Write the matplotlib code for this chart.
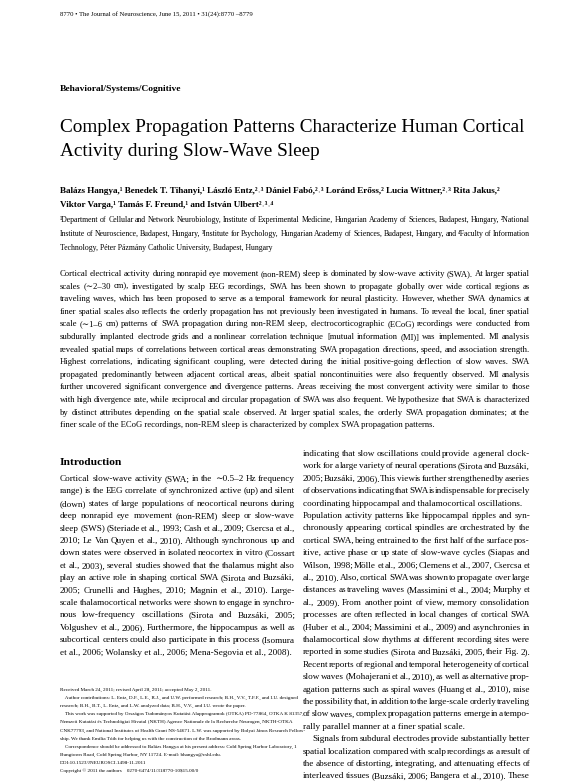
import matplotlib
matplotlib.use("Agg")
import matplotlib.pyplot as plt

W, H = 585, 783
SERIF = ["Liberation Serif", "DejaVu Serif"]

header = "8770 • The Journal of Neuroscience, June 15, 2011 • 31(24):8770 –8779"
section = "Behavioral/Systems/Cognitive"
title = ["Complex Propagation Patterns Characterize Human Cortical",
         "Activity during Slow-Wave Sleep"]
authors = ["Balázs Hangya,¹ Benedek T. Tihanyi,¹ László Entz,²˒³ Dániel Fabó,²˒³ Loránd Erőss,² Lucia Wittner,²˒³ Rita Jakus,²",
           "Viktor Varga,¹ Tamás F. Freund,¹ and István Ulbert²˒³˒⁴"]
affil = ["¹Department of Cellular and Network Neurobiology, Institute of Experimental Medicine, Hungarian Academy of Sciences, Budapest, Hungary, ²National",
         "Institute of Neuroscience, Budapest, Hungary, ³Institute for Psychology, Hungarian Academy of Sciences, Budapest, Hungary, and ⁴Faculty of Information",
         "Technology, Péter Pázmány Catholic University, Budapest, Hungary"]
abstract = [
    "Cortical electrical activity during nonrapid eye movement (non-REM) sleep is dominated by slow-wave activity (SWA). At larger spatial",
    "scales (∼2–30 cm), investigated by scalp EEG recordings, SWA has been shown to propagate globally over wide cortical regions as",
    "traveling waves, which has been proposed to serve as a temporal framework for neural plasticity. However, whether SWA dynamics at",
    "finer spatial scales also reflects the orderly propagation has not previously been investigated in humans. To reveal the local, finer spatial",
    "scale (∼1–6 cm) patterns of SWA propagation during non-REM sleep, electrocorticographic (ECoG) recordings were conducted from",
    "subdurally implanted electrode grids and a nonlinear correlation technique [mutual information (MI)] was implemented. MI analysis",
    "revealed spatial maps of correlations between cortical areas demonstrating SWA propagation directions, speed, and association strength.",
    "Highest correlations, indicating significant coupling, were detected during the initial positive-going deflection of slow waves. SWA",
    "propagated predominantly between adjacent cortical areas, albeit spatial noncontinuities were also frequently observed. MI analysis",
    "further uncovered significant convergence and divergence patterns. Areas receiving the most convergent activity were similar to those",
    "with high divergence rate, while reciprocal and circular propagation of SWA was also frequent. We hypothesize that SWA is characterized",
    "by distinct attributes depending on the spatial scale observed. At larger spatial scales, the orderly SWA propagation dominates; at the",
    "finer scale of the ECoG recordings, non-REM sleep is characterized by complex SWA propagation patterns.",
]
left_col = [
    "Cortical slow-wave activity (SWA; in the ∼0.5–2 Hz frequency",
    "range) is the EEG correlate of synchronized active (up) and silent",
    "(down) states of large populations of neocortical neurons during",
    "deep nonrapid eye movement (non-REM) sleep or slow-wave",
    "sleep (SWS) (Steriade et al., 1993; Cash et al., 2009; Csercsa et al.,",
    "2010; Le Van Quyen et al., 2010). Although synchronous up and",
    "down states were observed in isolated neocortex in vitro (Cossart",
    "et al., 2003), several studies showed that the thalamus might also",
    "play an active role in shaping cortical SWA (Sirota and Buzsáki,",
    "2005; Crunelli and Hughes, 2010; Magnin et al., 2010). Large-",
    "scale thalamocortical networks were shown to engage in synchro-",
    "nous low-frequency oscillations (Sirota and Buzsáki, 2005;",
    "Volgushev et al., 2006). Furthermore, the hippocampus as well as",
    "subcortical centers could also participate in this process (Isomura",
    "et al., 2006; Wolansky et al., 2006; Mena-Segovia et al., 2008).",
]
footnotes = [
    "Received March 24, 2011; revised April 28, 2011; accepted May 2, 2011.",
    "    Author contributions: L. Entz, D.F., L.E., R.J., and U.W. performed research; B.H., V.V., T.F.F., and I.U. designed",
    "research; B.H., B.T., L. Entz, and L.W. analyzed data; B.H., V.V., and I.U. wrote the paper.",
    "    This work was supported by Országos Tudományos Kutatási Alapprogramok (OTKA) PD-77864, OTKA K 81357,",
    "Nemzeti Kutatási és Technológiai Hivatal (NKTH) Agence Nationale de la Recherche Neurogen, NKTH-OTKA",
    "CNK77793, and National Institutes of Health Grant NS-54671. L.W. was supported by Bolyai János Research Fellow-",
    "ship. We thank Emilia Tóth for helping us with the construction of the Brodmann areas.",
    "    Correspondence should be addressed to Balázs Hangya at his present address: Cold Spring Harbor Laboratory, 1",
    "Bungtown Road, Cold Spring Harbor, NY 11724. E-mail: bhangya@cshl.edu.",
    "DOI:10.1523/JNEUROSCI.1498-11.2011",
    "Copyright © 2011 the authors    0270-6474/11/318770-10$15.00/0",
]
right_col = [
    "indicating that slow oscillations could provide a general clock-",
    "work for a large variety of neural operations (Sirota and Buzsáki,",
    "2005; Buzsáki, 2006). This view is further strengthened by a series",
    "of observations indicating that SWA is indispensable for precisely",
    "coordinating hippocampal and thalamocortical oscillations.",
    "Population activity patterns like hippocampal ripples and syn-",
    "chronously appearing cortical spindles are orchestrated by the",
    "cortical SWA, being entrained to the first half of the surface pos-",
    "itive, active phase or up state of slow-wave cycles (Siapas and",
    "Wilson, 1998; Mölle et al., 2006; Clemens et al., 2007, Csercsa et",
    "al., 2010). Also, cortical SWA was shown to propagate over large",
    "distances as traveling waves (Massimini et al., 2004; Murphy et",
    "al., 2009). From another point of view, memory consolidation",
    "processes are often reflected in local changes of cortical SWA",
    "(Huber et al., 2004; Massimini et al., 2009) and asynchronies in",
    "thalamocortical slow rhythms at different recording sites were",
    "reported in some studies (Sirota and Buzsáki, 2005, their Fig. 2).",
    "Recent reports of regional and temporal heterogeneity of cortical",
    "slow waves (Mohajerani et al., 2010), as well as alternative prop-",
    "agation patterns such as spiral waves (Huang et al., 2010), raise",
    "the possibility that, in addition to the large-scale orderly traveling",
    "of slow waves, complex propagation patterns emerge in a tempo-",
    "rally parallel manner at a finer spatial scale.",
    "Signals from subdural electrodes provide substantially better",
    "spatial localization compared with scalp recordings as a result of",
    "the absence of distorting, integrating, and attenuating effects of",
    "interleaved tissues (Buzsáki, 2006; Bangera et al., 2010). These",
]

fig = plt.figure(figsize=(W / 100, H / 100), dpi=100)
r = fig.canvas.get_renderer()


def put(x, y, s, size, **kw):
    # x, y in pixels from top-left, y is text baseline
    return fig.text(x / W, 1 - y / H, s, fontsize=size, family=SERIF,
                    va="baseline", ha="left", **kw)


def block(lines, x0, x1, y0, dy, size, ragged=(), indent=(), **kw):
    # simple word-level justification
    for i, line in enumerate(lines):
        y = y0 + i * dy
        xs = x0 + (9 if i in indent else 0)
        if i in ragged:
            put(xs, y, line, size, **kw)
            continue
        words = line.split(" ")
        ts = [put(xs, y, w, size, **kw) for w in words]
        ws = [t.get_window_extent(r).width for t in ts]
        gap = (x1 - xs - sum(ws)) / max(len(words) - 1, 1)
        x = xs
        for t, w in zip(ts, ws):
            t.set_x(x / W)
            x += w + gap


put(60, 16, header, 4.8)
put(60, 91, section, 6.8, weight="bold")
put(60, 132, title[0], 13.9)
put(60, 156, title[1], 13.9)
put(60, 193, authors[0], 6.6, weight="bold")
put(60, 207, authors[1], 6.6, weight="bold")
block(affil, 60, 530, 222, 14.2, 5.6, ragged={2})

block(abstract, 60, 530, 276, 12.6, 6.25, ragged={12})
put(60, 465, "Introduction", 8.2, weight="bold")
block(left_col, 60, 295, 481, 12.4, 6.6, ragged={14})
for i, f in enumerate(footnotes):
    put(60, 691 + i * 8.1, f, 3.7)
block(right_col, 303, 530, 456, 12.4, 6.6, ragged={22, 4}, indent={23})

fig.savefig("out.png", dpi=100, facecolor="white")
